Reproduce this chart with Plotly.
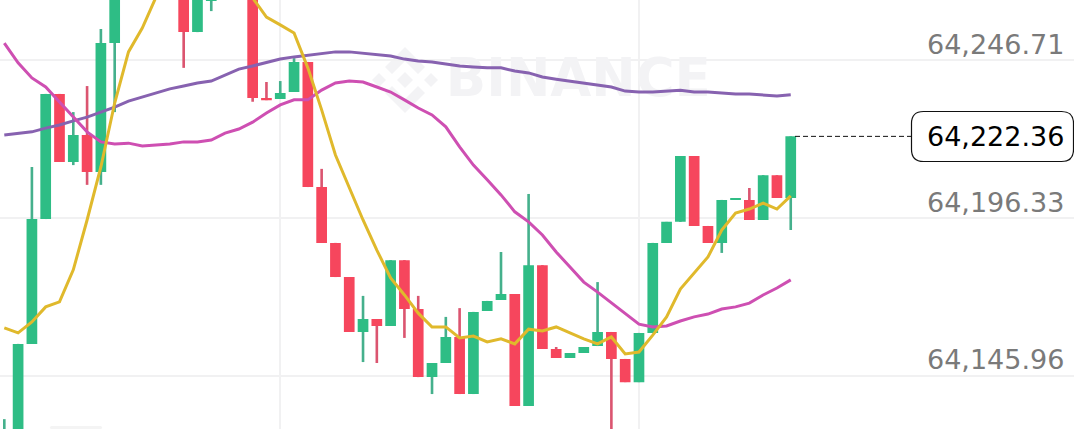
import plotly.graph_objects as go

W, H = 1074, 429

tick_values = [64246.71, 64196.33, 64145.96]
tick_labels = ["64,246.71", "64,196.33", "64,145.96"]
last_price = 64222.36
last_label = "64,222.36"
watermark = "BINANCE"

open_ = [64115.0,64119.2,64156.2,64196.0,64235.9,64214.2,64222.8,64211.0,64252.1,64275.4,
         64285.0,64280.0,64290.0,64275.0,64255.6,64265.5,64270.0,64268.0,64280.0,64234.6,
         64234.3,64236.5,64246.1,64206.2,64188.4,64177.5,64160.0,64164.1,64161.9,64182.9,
         64167.3,64145.6,64150.1,64158.4,64140.2,64166.7,64170.2,64172.1,64136.4,64181.3,
         64154.6,64151.7,64153.3,64155.5,64160.0,64151.4,64144.0,64159.7,64188.4,64195.1,
         64216.1,64193.8,64188.4,64202.1,64202.1,64195.7,64210.0,64202.7]
close = [64125.5,64156.2,64196.0,64235.9,64214.2,64222.8,64211.0,64252.1,64275.4,64285.0,
         64280.0,64290.0,64275.0,64255.6,64272.0,64270.0,64268.0,64280.0,64234.6,64233.9,
         64236.2,64246.1,64206.2,64188.4,64177.5,64160.0,64164.1,64161.9,64182.9,64167.3,
         64145.6,64150.1,64158.4,64140.2,64166.4,64169.9,64172.1,64136.4,64181.3,64154.6,
         64151.7,64153.3,64155.2,64160.0,64151.4,64144.0,64159.7,64188.4,64195.1,64216.1,
         64193.8,64188.4,64202.1,64202.7,64195.7,64210.0,64202.7,64222.36]
high = [64132.2,64156.2,64212.6,64235.9,64235.9,64230.1,64238.4,64256.6,64275.4,64288.0,
        64285.0,64290.0,64290.0,64278.0,64272.0,64272.0,64270.0,64280.0,64282.0,64239.7,
        64240.0,64247.3,64246.1,64212.0,64188.4,64177.5,64171.5,64164.1,64182.9,64182.9,
        64171.5,64150.1,64164.8,64167.6,64166.4,64169.9,64185.5,64172.1,64204.0,64181.3,
        64155.2,64153.3,64155.2,64175.9,64160.0,64151.4,64159.7,64188.4,64195.1,64216.1,
        64216.1,64193.8,64202.1,64202.7,64205.9,64210.0,64210.0,64222.36]
low = [64112.8,64115.0,64156.2,64196.0,64214.2,64213.2,64206.9,64206.9,64230.1,64272.0,
       64280.0,64280.0,64275.0,64244.2,64255.6,64262.3,64268.0,64268.0,64233.4,64233.9,
       64234.3,64236.5,64206.2,64188.4,64177.5,64160.0,64150.4,64150.1,64161.9,64158.1,
       64145.6,64140.2,64150.1,64140.2,64140.2,64166.7,64170.2,64136.4,64136.4,64154.6,
       64151.7,64151.7,64153.3,64155.5,64125.0,64144.0,64144.0,64159.7,64188.4,64195.1,
       64193.8,64188.4,64185.2,64202.1,64195.7,64195.7,64202.7,64192.5]

ma7 = [64161.3,64159.7,64163.2,64168.0,64169.6,64179.8,64195.7,64212.6,64233.0,64249.3,
       64256.9,64266.8,64278.6,64285.0,64286.6,64285.0,64278.6,64272.2,64266.5,64260.4,
       64257.9,64255.3,64244.2,64230.8,64216.4,64206.2,64195.7,64186.1,64177.2,64171.8,
       64166.0,64161.6,64161.6,64158.1,64158.7,64156.8,64157.8,64156.2,64160.9,64160.3,
       64161.6,64159.7,64157.8,64156.2,64158.4,64153.0,64153.6,64159.0,64164.8,64173.7,
       64178.8,64183.9,64192.5,64197.9,64199.2,64201.1,64199.2,64203.4]
ma25 = [64252.1,64245.8,64241.0,64238.1,64233.3,64228.5,64223.8,64220.6,64219.9,64220.2,
        64219.3,64219.6,64219.9,64220.6,64220.6,64221.2,64223.4,64224.7,64226.9,64229.8,
        64232.4,64234.0,64234.0,64237.1,64239.4,64240.0,64239.7,64238.1,64236.5,64234.0,
        64231.4,64229.2,64225.4,64219.0,64213.2,64208.5,64203.7,64198.3,64195.1,64190.9,
        64185.5,64180.7,64175.9,64172.7,64169.2,64166.0,64162.5,64161.6,64161.9,64163.5,
        64164.8,64165.7,64167.3,64168.0,64169.2,64171.8,64174.0,64176.6]
ma99 = [64222.8,64223.4,64223.8,64225.0,64226.0,64227.3,64228.5,64230.1,64231.7,64233.6,
        64234.9,64236.2,64237.5,64238.4,64239.4,64240.0,64241.9,64243.8,64244.8,64245.8,
        64247.0,64247.7,64248.3,64248.9,64249.3,64249.3,64248.9,64248.3,64248.0,64247.0,
        64246.4,64246.1,64245.4,64244.8,64244.5,64244.2,64244.2,64243.2,64242.6,64241.3,
        64240.6,64240.0,64239.4,64238.7,64238.1,64236.8,64236.5,64236.5,64236.8,64237.1,
        64236.5,64236.5,64236.2,64235.9,64235.9,64235.6,64235.2,64235.6]

x = list(range(len(open_)))
x_range = [-0.312, 77.53]
y_range = [64129.06, 64265.84]

GREEN, RED = "#2EBD85", "#F6465D"
GREEN_WICK, RED_WICK = "#45B08C", "#DB5570"
GRID = "#F1F1F2"
WM = "#F3F3F5"
TEXT_GREY = "#7A7A7A"

fig = go.Figure()

# watermark text sits beneath every other trace
fig.add_trace(go.Scatter(x=[41.6], y=[64239.3], mode="text", text=[watermark],
                         textfont=dict(family="DejaVu Sans", size=53, color=WM, weight="bold"),
                         textposition="middle center", hoverinfo="skip", showlegend=False))

# wicks
wick_colors = [GREEN_WICK if c >= o else RED_WICK for o, c in zip(open_, close)]
fig.add_trace(go.Bar(x=x, y=[h - l for h, l in zip(high, low)], base=low, width=0.19,
                     marker=dict(color=wick_colors, line=dict(width=0)),
                     hoverinfo="skip", showlegend=False))

# bodies
fig.add_trace(go.Candlestick(x=x, open=open_, high=high, low=low, close=close,
                             increasing=dict(line=dict(color=GREEN, width=0), fillcolor=GREEN),
                             decreasing=dict(line=dict(color=RED, width=0), fillcolor=RED),
                             showlegend=False))

for series, color in ((ma99, "#8762B0"), (ma25, "#CE4FB2"), (ma7, "#E0B92C")):
    fig.add_trace(go.Scatter(x=x, y=series, mode="lines",
                             line=dict(color=color, width=3), showlegend=False))


def px(p):
    return p / W


def py(p):
    return 1 - p / H


def poly(points, cx=405, cy=80):
    parts = [f"{'M' if i == 0 else 'L'}{px(cx + a)},{py(cy + b)}" for i, (a, b) in enumerate(points)]
    return " ".join(parts) + " Z"


def diamond(dx, r):
    return [(dx, -r), (dx + r, 0), (dx, r), (dx - r, 0)]


chev_top = [(0, -33), (20, -13), (13, -6), (0, -19), (-13, -6), (-20, -13)]
chev_bot = [(a, -b) for a, b in chev_top]
logo = [diamond(0, 8), diamond(-26, 7), diamond(26, 7), chev_top, chev_bot]
shapes = [dict(type="path", xref="paper", yref="paper", path=poly(p), fillcolor=WM,
               line=dict(width=0), layer="below") for p in logo]

# dashed last-price line
shapes.append(dict(type="line", xref="paper", yref="y", x0=px(795), x1=px(912),
                   y0=last_price, y1=last_price, line=dict(color="#111111", width=1, dash="5px,3px")))


def round_rect(x0, y0, x1, y1, r):
    return (f"M{px(x0 + r)},{py(y0)} L{px(x1 - r)},{py(y0)} "
            f"Q{px(x1)},{py(y0)} {px(x1)},{py(y0 + r)} L{px(x1)},{py(y1 - r)} "
            f"Q{px(x1)},{py(y1)} {px(x1 - r)},{py(y1)} L{px(x0 + r)},{py(y1)} "
            f"Q{px(x0)},{py(y1)} {px(x0)},{py(y1 - r)} L{px(x0)},{py(y0 + r)} "
            f"Q{px(x0)},{py(y0)} {px(x0 + r)},{py(y0)} Z")


shapes.append(dict(type="path", xref="paper", yref="paper",
                   path=round_rect(911.5, 111.5, 1073.5, 161.5, 12),
                   fillcolor="white", line=dict(color="#111111", width=1.2)))
# faint pill clipped by the bottom edge
shapes.append(dict(type="path", xref="paper", yref="paper",
                   path=round_rect(50, 426, 102, 429, 1.5),
                   fillcolor="#F4F4F4", line=dict(width=0), layer="below"))

annotations = [dict(xref="paper", yref="y", x=px(1066), y=v, yshift=16, text=t, showarrow=False,
                    xanchor="right", yanchor="middle",
                    font=dict(family="DejaVu Sans", size=27, color=TEXT_GREY))
               for v, t in zip(tick_values, tick_labels)]
annotations.append(dict(xref="paper", yref="y", x=px(1066), y=last_price, text=last_label,
                        showarrow=False, xanchor="right", yanchor="middle",
                        font=dict(family="DejaVu Sans", size=27, color="#000000")))

fig.update_layout(
    width=W, height=H, margin=dict(l=0, r=0, t=0, b=0, pad=0),
    paper_bgcolor="white", plot_bgcolor="white", showlegend=False,
    barmode="overlay", boxgap=0.225, boxgroupgap=0, boxmode="overlay",
    shapes=shapes, annotations=annotations,
    xaxis=dict(range=x_range, rangeslider=dict(visible=False), tickmode="array", tickvals=[20, 46],
               showticklabels=False, showgrid=True, gridcolor=GRID, gridwidth=2, zeroline=False,
               ticks="", showline=False),
    yaxis=dict(range=y_range, tickmode="array", tickvals=tick_values,
               showticklabels=False, showgrid=True, gridcolor=GRID, gridwidth=2, zeroline=False,
               ticks="", showline=False),
)

fig.write_html("out.html", config=dict(displayModeBar=False),
               post_script="document.body.style.margin='0';document.documentElement.style.overflow='hidden';")
